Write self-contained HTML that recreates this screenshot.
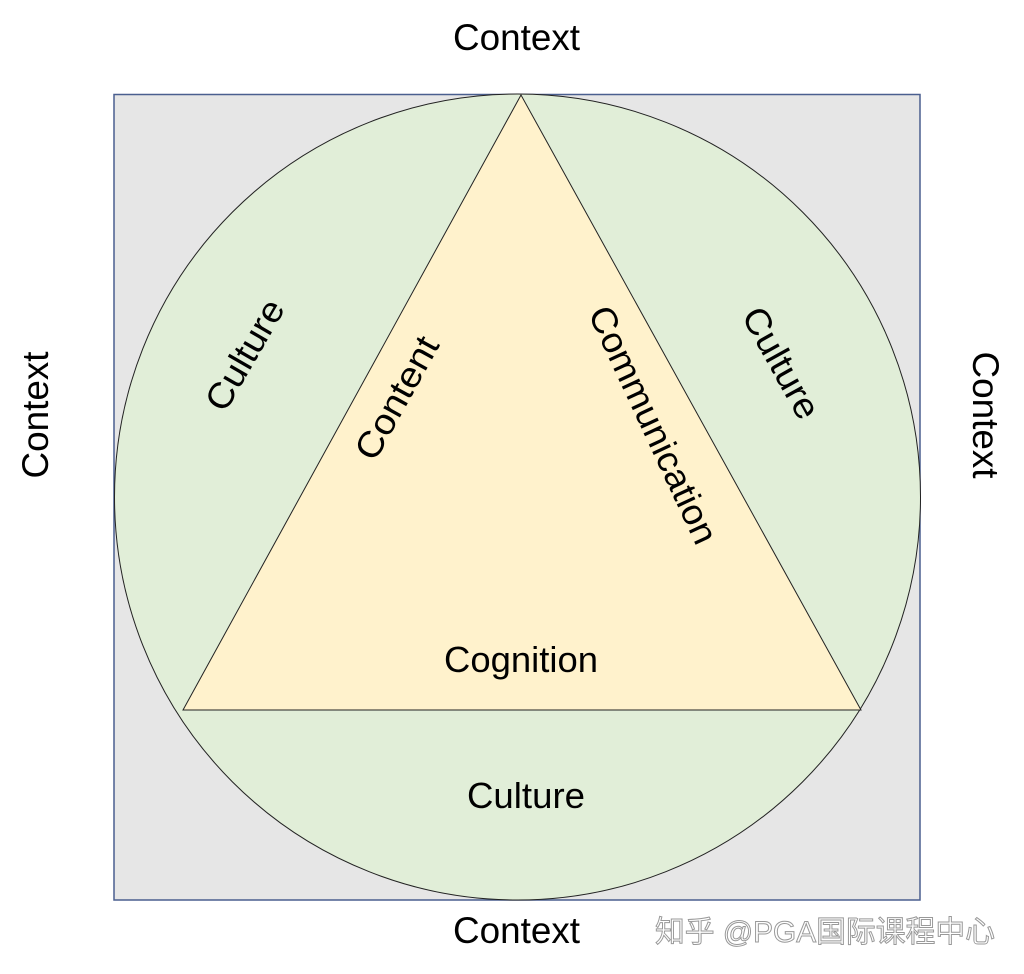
<!DOCTYPE html>
<html><head><meta charset="utf-8"><style>
html,body{margin:0;padding:0;background:#fff;}
svg{display:block;}
text{font-family:"Liberation Sans",Arial,sans-serif;fill:#000;}
</style></head><body>
<svg width="1024" height="974" viewBox="0 0 1024 974" xmlns="http://www.w3.org/2000/svg">
<rect x="114" y="94.5" width="806" height="805.5" fill="#e6e6e6" stroke="#4a5f8f" stroke-width="1.5"/>
<circle cx="517.5" cy="497" r="403" fill="#e1eed8" stroke="#222" stroke-width="1"/>
<polygon points="521,95 183,710 861,710" fill="#fff2cc" stroke="#222" stroke-width="1"/>
<g font-size="37" text-anchor="middle">
<text x="516.5" y="50" textLength="127" lengthAdjust="spacingAndGlyphs">Context</text>
<text x="516.5" y="943" textLength="127" lengthAdjust="spacingAndGlyphs">Context</text>
<text transform="translate(35,415) rotate(-90)" y="13" textLength="127" lengthAdjust="spacingAndGlyphs">Context</text>
<text transform="translate(986,415) rotate(90)" y="13" textLength="127" lengthAdjust="spacingAndGlyphs">Context</text>
</g>
<g font-size="36" text-anchor="middle">
<text transform="translate(245,355) rotate(-60)" y="12" textLength="122" lengthAdjust="spacingAndGlyphs">Culture</text>
<text transform="translate(781,363) rotate(61)" y="12" textLength="122" lengthAdjust="spacingAndGlyphs">Culture</text>
<text transform="translate(397,398) rotate(-61)" y="12" textLength="135" lengthAdjust="spacingAndGlyphs">Content</text>
<text transform="translate(653,425) rotate(65)" y="12" textLength="258" lengthAdjust="spacingAndGlyphs">Communication</text>
<text x="521" y="672" textLength="154" lengthAdjust="spacingAndGlyphs">Cognition</text>
<text x="526" y="808" textLength="118" lengthAdjust="spacingAndGlyphs">Culture</text>
</g>
<text x="655" y="942" font-size="30" textLength="340" lengthAdjust="spacingAndGlyphs" stroke="#999" stroke-width="1" style="font-family:'Liberation Sans','Noto Sans CJK SC',sans-serif;fill:#fff">知乎 @PGA国际课程中心</text>
</svg>
</body></html>
